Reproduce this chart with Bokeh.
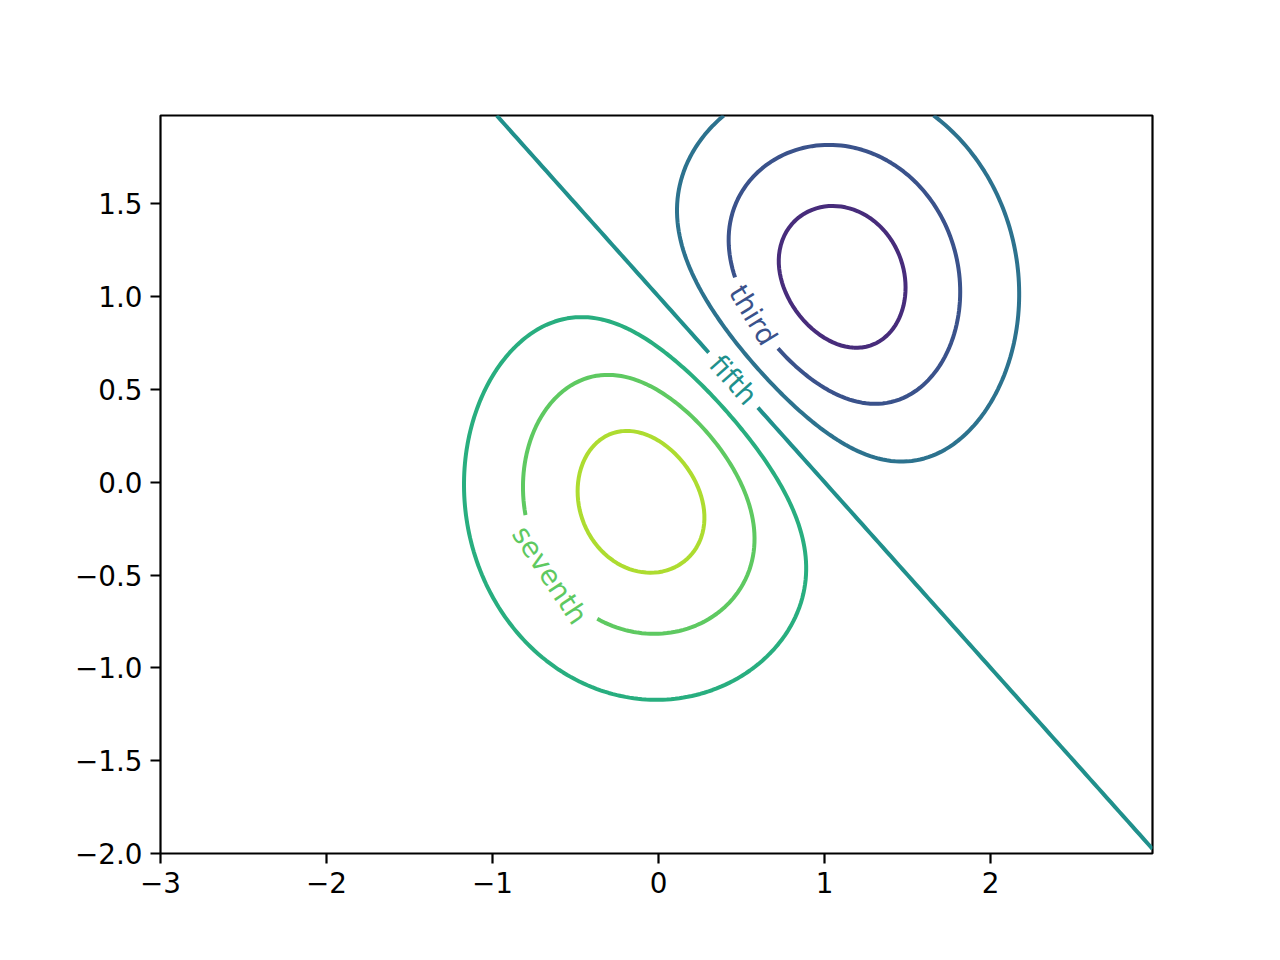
import numpy as np
import contourpy
from bokeh.plotting import figure
from bokeh.models import FixedTicker, Range1d, CustomJSTickFormatter
from bokeh.core.properties import value
from bokeh.palettes import Viridis256
from bokeh.embed import file_html
from bokeh.resources import INLINE

# ---- data: field definition (difference of two Gaussians) ----
grid_step = 0.025
x_bounds = [-3.0, 3.0]
y_bounds = [-2.0, 2.0]
amplitude = 2.0
bump_center = [0.0, 0.0]
dip_center = [1.0, 1.0]

levels = [-2.0, -1.5, -1.0, -0.5, 0.0, 0.5, 1.0, 1.5, 2.0]
level_names = ["first", "second", "third", "fourth", "fifth", "sixth", "seventh"]
labeled_levels = levels[::2]
label_anchor_x = {-1.0: 0.590, 0.0: 0.451, 1.0: -0.645}
label_anchor_y = {-1.0: 0.909, 0.0: 0.553, 1.0: -0.492}

x_ticks = [-3, -2, -1, 0, 1, 2]
y_ticks = [-2.0, -1.5, -1.0, -0.5, 0.0, 0.5, 1.0, 1.5]

# ---- build field ----
xg = np.arange(x_bounds[0], x_bounds[1], grid_step)
yg = np.arange(y_bounds[0], y_bounds[1], grid_step)
X, Y = np.meshgrid(xg, yg)
Z1 = np.exp(-(X - bump_center[0]) ** 2 - (Y - bump_center[1]) ** 2)
Z2 = np.exp(-(X - dip_center[0]) ** 2 - (Y - dip_center[1]) ** 2)
Z = (Z1 - Z2) * amplitude

x0, x1 = xg[0], xg[-1]
y0, y1 = yg[0], yg[-1]

FW, FH = 992, 738
sx = FW / (x1 - x0)
sy = FH / (y1 - y0)

FONT = "DejaVu Sans"
FS_PX = 27.8
char_w = {"t": 0.392, "h": 0.634, "i": 0.278, "r": 0.411, "d": 0.635, "f": 0.352,
          "s": 0.521, "e": 0.615, "v": 0.592, "n": 0.634}


def text_width(s):
    return sum(char_w.get(c, 0.6) for c in s) * FS_PX


def color_for(lev):
    t = (lev - levels[0]) / (levels[-1] - levels[0])
    idx = min(255, int(t * 256))
    return Viridis256[idx]


def cut_line(line, cx, cy, r):
    px = line[:, 0] * sx
    py = line[:, 1] * sy
    d = np.hypot(px - cx * sx, py - cy * sy)
    inside = d < r
    pieces = []
    cur = []
    for i in range(len(line)):
        if not inside[i]:
            if i > 0 and inside[i - 1]:
                t = (r - d[i - 1]) / (d[i] - d[i - 1])
                cur.append(line[i - 1] + t * (line[i] - line[i - 1]))
            cur.append(line[i])
        else:
            if i > 0 and not inside[i - 1]:
                t = (d[i - 1] - r) / (d[i - 1] - d[i])
                cur.append(line[i - 1] + t * (line[i] - line[i - 1]))
                pieces.append(np.array(cur))
                cur = []
    if cur:
        pieces.append(np.array(cur))
    closed = np.allclose(line[0], line[-1])
    if closed and len(pieces) > 1 and not inside[0]:
        merged = np.vstack([pieces[-1], pieces[0][1:]])
        pieces = [merged] + pieces[1:-1]
    return [pc for pc in pieces if len(pc) > 1]


gen = contourpy.contour_generator(xg, yg, Z, line_type="Separate")

p = figure(frame_width=FW, frame_height=FH,
           x_range=Range1d(x0, x1), y_range=Range1d(y0, y1),
           output_backend="svg", toolbar_location=None,
           min_border_left=160, min_border_right=112,
           min_border_top=115, min_border_bottom=91,
           background_fill_color="white", border_fill_color="white")
p.grid.visible = False
p.outline_line_color = "black"
p.outline_line_width = 2.2

label_x, label_y, label_t, label_a, label_c = [], [], [], [], []

for li, lev in enumerate(levels):
    lines = [np.asarray(l) for l in gen.lines(lev) if len(l) > 1]
    if not lines:
        continue
    col = color_for(lev)
    if lev in label_anchor_x:
        ax_, ay_ = label_anchor_x[lev], label_anchor_y[lev]
        best = None
        for j, l in enumerate(lines):
            d = np.hypot((l[:, 0] - ax_) * sx, (l[:, 1] - ay_) * sy)
            k = int(np.argmin(d))
            if best is None or d[k] < best[0]:
                best = (d[k], j, k)
        _, j, k = best
        l = lines[j]
        cx, cy = l[k, 0], l[k, 1]
        ka, kb = max(0, k - 3), min(len(l) - 1, k + 3)
        dx = (l[kb, 0] - l[ka, 0]) * sx
        dy = (l[kb, 1] - l[ka, 1]) * sy
        ang = np.arctan2(dy, dx)
        if ang > np.pi / 2:
            ang -= np.pi
        if ang < -np.pi / 2:
            ang += np.pi
        name = level_names[li]
        r = text_width(name) / 2 + 9
        new_lines = []
        for jj, ll in enumerate(lines):
            if jj == j:
                new_lines.extend(cut_line(ll, cx, cy, r))
            else:
                new_lines.append(ll)
        lines = new_lines
        label_x.append(cx)
        label_y.append(cy)
        label_t.append(name)
        label_a.append(ang)
        label_c.append(col)
    p.multi_line([list(l[:, 0]) for l in lines], [list(l[:, 1]) for l in lines],
                 line_color=col, line_width=4, line_join="round")

p.text(x=label_x, y=label_y, text=label_t, angle=label_a, text_color=label_c,
       text_font=value(FONT), text_font_size=value(f"{FS_PX}px"),
       text_align="center", text_baseline="middle")

for ax, ticks, digits in ((p.xaxis, x_ticks, 0), (p.yaxis, y_ticks, 1)):
    ax.ticker = FixedTicker(ticks=ticks)
    ax.formatter = CustomJSTickFormatter(
        code=f"return (tick < 0 ? '\\u2212' : '') + Math.abs(tick).toFixed({digits});")
    ax.major_label_text_font = FONT
    ax.major_label_text_font_size = f"{FS_PX}px"
    ax.major_label_text_color = "black"
    ax.major_tick_out = 10
    ax.major_tick_in = 0
    ax.major_tick_line_width = 2.2
    ax.major_tick_line_color = "black"
    ax.minor_tick_line_color = None
    ax.axis_line_color = None
    ax.major_label_standoff = 8

open("out.html", "w").write(file_html(p, INLINE))
